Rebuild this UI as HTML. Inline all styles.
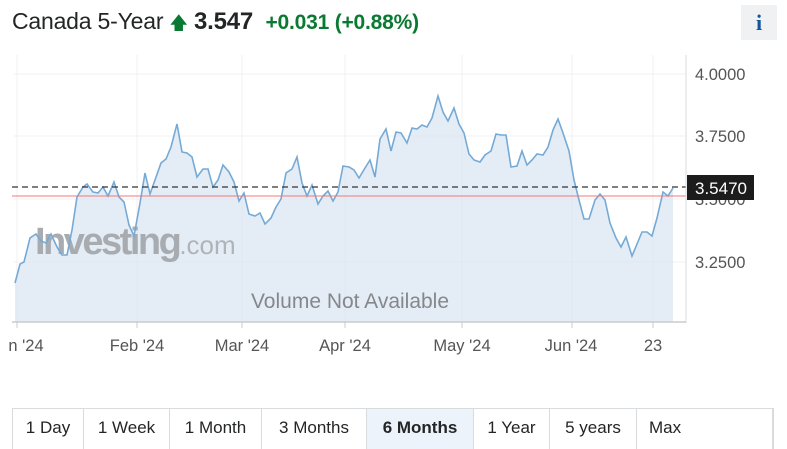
<!DOCTYPE html>
<html><head><meta charset="utf-8"><style>
body{margin:0;width:787px;height:445px;background:#fff;font-family:"Liberation Sans",sans-serif;overflow:hidden;position:relative}
.hdr{position:absolute;left:12px;top:8px;font-size:23px;color:#232526;white-space:nowrap;letter-spacing:-0.2px}
.hdr b{font-weight:bold;font-size:24px}
.g{color:#0a7a32;font-weight:bold;font-size:21px}
.info{position:absolute;left:741px;top:5px;width:36px;height:35px;background:#f0f1f2;color:#1256a0;font:bold 22px "Liberation Serif",serif;text-align:center;line-height:35px}
.btns{position:absolute;left:12px;top:408px;height:40px;display:flex;border:1px solid #d9dcdf;border-bottom:none}
.btns div{height:40px;line-height:38px;font-size:17px;color:#232526;border-right:1px solid #d9dcdf;text-align:center;box-sizing:border-box}
.btns .a{background:#edf3fa;font-weight:bold}
</style></head><body>
<div class="hdr">Canada 5-Year <span style="color:#0a7a32;font-size:18px">&#129093;</span> <b>3.547</b> &nbsp;<span class="g">+0.031 (+0.88%)</span></div>
<div class="info">i</div>
<svg width="787" height="400" style="position:absolute;left:0;top:0">
<g stroke="#f0f1f3" stroke-width="1">
<line x1="14" y1="74" x2="686" y2="74"/><line x1="14" y1="136" x2="686" y2="136"/><line x1="14" y1="199" x2="686" y2="199"/><line x1="14" y1="262" x2="686" y2="262"/>
<line x1="17" y1="55" x2="17" y2="322"/><line x1="137" y1="55" x2="137" y2="322"/><line x1="242" y1="55" x2="242" y2="322"/><line x1="345" y1="55" x2="345" y2="322"/><line x1="462" y1="55" x2="462" y2="322"/><line x1="572" y1="55" x2="572" y2="322"/><line x1="653" y1="55" x2="653" y2="322"/>
</g>
<polygon fill="#d6e4f1" fill-opacity="0.65" points="15,322 15,283 20,264 24,262 30,238 36,234 41,241 46,243 51,234 57,247 62,255 67,255 72,230 77,197 83,187 87,184 93,192 98,193 103,187 108,196 114,182 119,197 124,202 129,225 134,236 140,203 145,173 150,194 155,180 161,163 166,159 171,147 177,124 182,152 187,153 192,157 197,177 203,169 208,169 213,187 218,180 223,165 229,172 234,182 239,201 244,193 249,214 255,216 260,213 265,224 271,218 276,207 281,199 286,173 292,169 297,157 302,183 307,196 312,185 318,204 323,196 328,191 333,201 338,192 343,166 349,167 354,170 359,178 365,168 370,160 375,177 380,139 386,129 391,151 396,132 401,133 407,143 412,128 417,129 422,125 427,127 432,118 438,96 443,112 448,121 454,108 459,124 464,133 469,154 474,160 480,162 485,155 491,151 496,134 501,135 506,135 511,167 517,166 522,151 527,165 532,160 537,154 543,155 548,147 553,130 558,119 563,133 569,151 574,180 579,200 584,219 589,219 595,200 600,194 605,200 610,223 616,238 621,247 626,237 632,256 637,244 642,232 647,232 652,236 657,218 663,192 668,196 673,188 673,322"/>
<text x="350" y="308" font-size="21" fill="#85888b" text-anchor="middle">Volume Not Available</text>
<text x="35" y="254" font-size="38" font-weight="bold" fill="#a8acb0" letter-spacing="-2.5">Investing<tspan font-weight="normal" font-size="26" letter-spacing="0" fill="#b0b4b8">.com</tspan></text>
<polyline fill="none" stroke="#75aad6" stroke-width="1.6" points="15,283 20,264 24,262 30,238 36,234 41,241 46,243 51,234 57,247 62,255 67,255 72,230 77,197 83,187 87,184 93,192 98,193 103,187 108,196 114,182 119,197 124,202 129,225 134,236 140,203 145,173 150,194 155,180 161,163 166,159 171,147 177,124 182,152 187,153 192,157 197,177 203,169 208,169 213,187 218,180 223,165 229,172 234,182 239,201 244,193 249,214 255,216 260,213 265,224 271,218 276,207 281,199 286,173 292,169 297,157 302,183 307,196 312,185 318,204 323,196 328,191 333,201 338,192 343,166 349,167 354,170 359,178 365,168 370,160 375,177 380,139 386,129 391,151 396,132 401,133 407,143 412,128 417,129 422,125 427,127 432,118 438,96 443,112 448,121 454,108 459,124 464,133 469,154 474,160 480,162 485,155 491,151 496,134 501,135 506,135 511,167 517,166 522,151 527,165 532,160 537,154 543,155 548,147 553,130 558,119 563,133 569,151 574,180 579,200 584,219 589,219 595,200 600,194 605,200 610,223 616,238 621,247 626,237 632,256 637,244 642,232 647,232 652,236 657,218 663,192 668,196 673,188"/>
<line x1="12" y1="196" x2="686" y2="196" stroke="#f07878" stroke-width="1"/>
<line x1="12" y1="187" x2="686" y2="187" stroke="#333" stroke-width="1.2" stroke-dasharray="6,4"/>
<line x1="686" y1="55" x2="686" y2="323" stroke="#d8dbde"/>
<line x1="12" y1="322" x2="686" y2="322" stroke="#c8cbce" stroke-width="1.5"/>
<g stroke="#c8cbce"><line x1="17" y1="322" x2="17" y2="328"/><line x1="137" y1="322" x2="137" y2="328"/><line x1="242" y1="322" x2="242" y2="328"/><line x1="345" y1="322" x2="345" y2="328"/><line x1="462" y1="322" x2="462" y2="328"/><line x1="572" y1="322" x2="572" y2="328"/><line x1="653" y1="322" x2="653" y2="328"/></g>
<g font-size="16.5" fill="#555" text-anchor="middle">
<text x="26" y="351">n '24</text><text x="137" y="351">Feb '24</text><text x="242" y="351">Mar '24</text><text x="345" y="351">Apr '24</text><text x="462" y="351">May '24</text><text x="571" y="351">Jun '24</text><text x="653" y="351">23</text>
</g>
<g font-size="16.5" fill="#555">
<text x="695" y="80">4.0000</text><text x="695" y="142">3.7500</text><text x="695" y="205">3.5000</text><text x="695" y="268">3.2500</text>
</g>
<rect x="687" y="175" width="67" height="25" fill="#1c1c1c"/>
<text x="695" y="194" font-size="17" fill="#fff">3.5470</text>
</svg>
<div class="btns">
<div style="width:71px">1 Day</div><div style="width:86px">1 Week</div><div style="width:92px">1 Month</div><div style="width:105px">3 Months</div><div class="a" style="width:107px">6 Months</div><div style="width:76px">1 Year</div><div style="width:87px">5 years</div><div style="width:136px;text-align:left;padding-left:12px">Max</div>
</div>
</body></html>
